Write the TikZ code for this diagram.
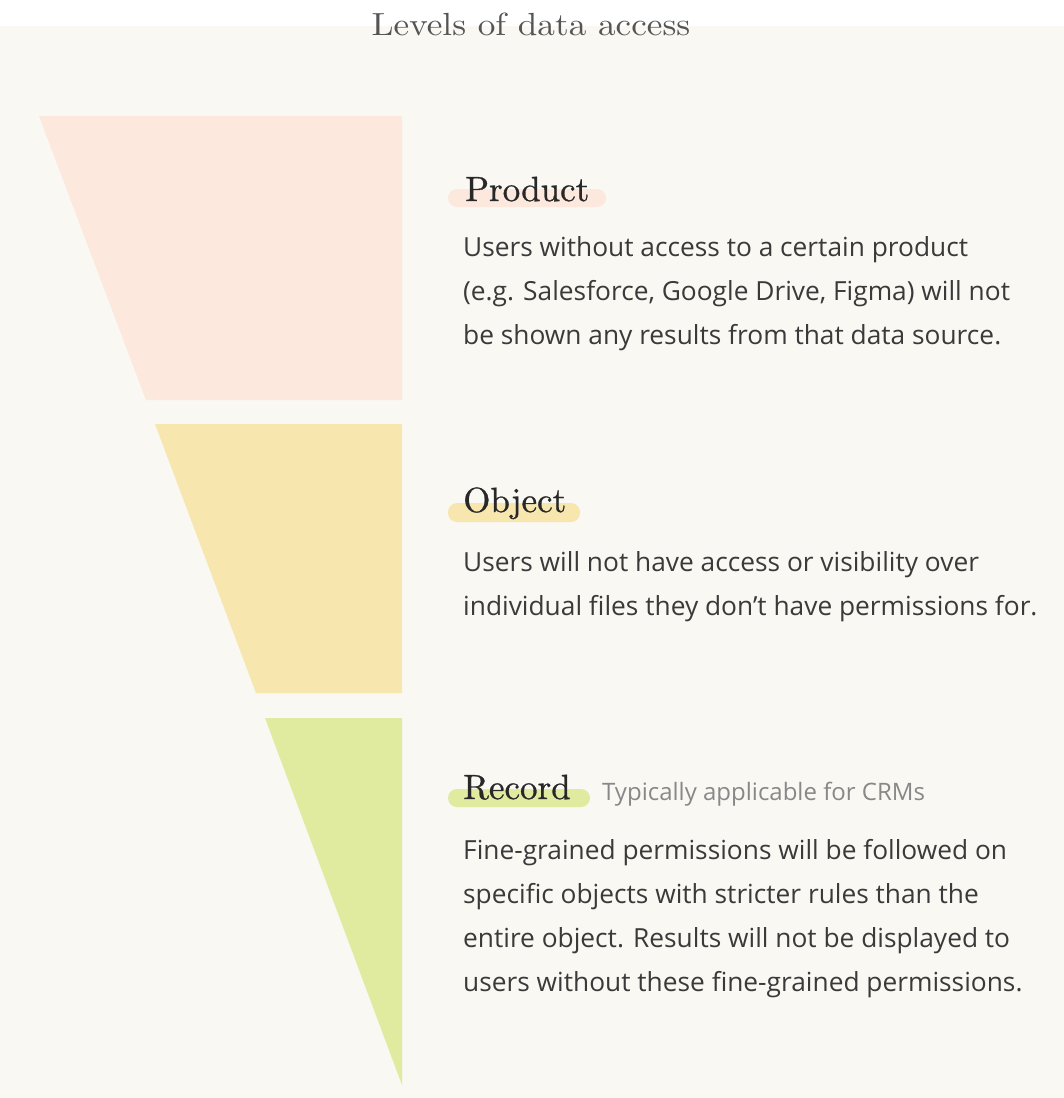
\documentclass[tikz,border=0pt]{standalone}
\usepackage{fontspec}
\setsansfont{Open Sans}
\newfontfamily\headfont{lmroman10-regular.otf}[FakeBold=0.8]
\newfontfamily\titlefont{lmroman10-regular.otf}[FakeStretch=1.1]
\definecolor{paper}{RGB}{250,248,243}
\definecolor{productfill}{RGB}{253,232,222}
\definecolor{objectfill}{RGB}{248,230,175}
\definecolor{recordfill}{RGB}{224,235,160}
\definecolor{headtext}{RGB}{40,40,40}
\definecolor{bodytext}{RGB}{58,58,58}
\definecolor{notetext}{RGB}{136,136,136}
\definecolor{titletext}{RGB}{85,85,85}

\begin{document}
\begin{tikzpicture}[x=1pt, y=-1pt,
    heading/.style = {anchor=base west, inner sep=0pt, text=headtext,
                      font=\headfont\fontsize{35}{35}\selectfont},
    body/.style    = {anchor=north west, inner sep=0pt, align=left, text=bodytext,
                      font=\sffamily\fontsize{26.3}{44}\selectfont},
    marker/.style  = {rounded corners=9pt}]
            % page and background
            \useasboundingbox (0,0) rectangle (1064,1098);
            \fill[white] (0,0) rectangle (1064,1098);
            \fill[paper] (0,26) rectangle (1064,1098);
            \node[anchor=base, inner sep=0pt, text=titletext,
                  font=\titlefont\fontsize{32}{32}\selectfont] (title) at (531,35) {Levels of data access};
            % funnel
            \fill[productfill] (39,116) -- (402,116) -- (402,400) -- (146,400) -- cycle;
            \fill[objectfill] (155,424) -- (402,424) -- (402,693) -- (256,693) -- cycle;
            \fill[recordfill] (265,718) -- (402,718) -- (402,1085) -- cycle;
            % product
            \fill[productfill, marker] (448,189) rectangle (606,207);
            \node[heading] (product) at (465,201) {Product};
            \node[body] (productText) at (463,236) {Users without access to a certain product\\
                (e.g. Salesforce, Google Drive, Figma) will not\\
                be shown any results from that data source.};
            % object
            \fill[objectfill, marker] (448,503) rectangle (580,522);
            \node[heading] (object) at (463,512) {Object};
            \node[body] (objectText) at (463,551) {Users will not have access or visibility over\\
                individual files they don’t have permissions for.};
            % record
            \fill[recordfill, marker] (448,789) rectangle (590,807);
            \node[heading] (record) at (463,799) {Record};
            \node[anchor=base west, inner sep=0pt, text=notetext,
                  font=\sffamily\fontsize{24}{24}\selectfont] (recordNote) at (602,800) {Typically applicable for CRMs};
            \node[body] (recordText) at (463,839) {Fine-grained permissions will be followed on\\
                specific objects with stricter rules than the\\
                entire object. Results will not be displayed to\\
                users without these fine-grained permissions.};
        \end{tikzpicture}
\end{document}
